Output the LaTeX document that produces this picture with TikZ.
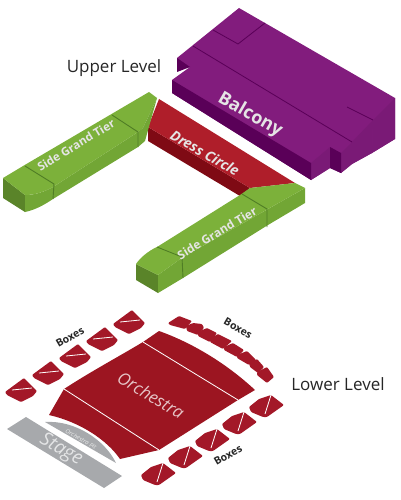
\documentclass[tikz,border=0pt]{standalone}
\usepackage{fontspec}
\setmainfont{Open Sans}
\definecolor{balconytop}{HTML}{821C7D}
\definecolor{balconyside}{HTML}{7A1A76}
\definecolor{balconydark}{HTML}{5A0058}
\definecolor{circletop}{HTML}{AF1E2A}
\definecolor{circledark}{HTML}{7F0A14}
\definecolor{tiertop}{HTML}{7CB13A}
\definecolor{tierside}{HTML}{72A635}
\definecolor{tierdark}{HTML}{5A8429}
\definecolor{seam}{HTML}{4F7D25}
\definecolor{orchfill}{HTML}{9C1521}
\definecolor{boxfill}{HTML}{A31828}
\definecolor{stagefill}{HTML}{A7A9AC}
\begin{document}
\begin{tikzpicture}[x=1pt, y=-1pt,
    levellabel/.style={font=\fontsize{17}{18}\selectfont, text=black!85},
    boxeslabel/.style={font=\fontsize{10.5}{11}\selectfont\bfseries, text=black!85},
    seatlabel/.style={font=\fontsize{11.6}{12}\selectfont\bfseries, text=white!90!black},
    slit/.style={draw=white, line width=0.8pt},
    boxshape/.style={fill=boxfill, rounded corners=1pt}]
  \useasboundingbox (0,0) rectangle (400,500);

  % balcony
  \fill[balconytop] (239,8) -- (395,98) -- (395,139) -- (372,153) -- (352,164) -- (341,173) -- (330,168)
    -- (311,180) -- (172,93) -- (172,80) -- (190,67) -- (177,70) -- (177,58) -- cycle;
  \fill[balconyside] (373,120) -- (395,98) -- (395,139) -- (372,153) -- cycle;
  \fill[balconyside] (352,142) -- (373,120) -- (372,153) -- (352,164) -- cycle;
  \fill[balconyside] (341,153) -- (352,142) -- (352,164) -- (341,173) -- cycle;
  \fill[balconyside] (311,163) -- (330,147) -- (330,168) -- (311,180) -- cycle;
  \fill[balconydark] (172,80) -- (311,163) -- (311,180) -- (172,93) -- cycle;
  \fill[balconydark] (177,58) -- (190,67) -- (177,72) -- cycle;
  \fill[balconydark] (330,147) -- (341,153) -- (341,173) -- (330,168) -- cycle;
  \draw[balconydark, line width=0.8pt] (193,46) -- (352,142);
  \draw[balconydark, line width=0.8pt] (213,30) -- (238,44) -- (265,23);
  \draw[balconydark, line width=0.8pt] (347,107) -- (373,120);
  \node[seatlabel, font=\fontsize{18}{18}\selectfont\bfseries, rotate=-30] (balcony) at (250,115) {Balcony};

  % dress circle
  \fill[circledark] (148,127) -- (250,188) -- (240,196) -- (148,141) -- cycle;
  \fill[circletop] (159,99) -- (295,183) -- (250,188) -- (148,127) -- cycle;
  \node[seatlabel, font=\fontsize{14}{14}\selectfont\bfseries\itshape, rotate=-30] (dresscircle) at (205,153) {Dress Circle};

  % side tier, left
  \fill[tierdark] (3,178) -- (25,195) -- (25,212) -- (3,198) -- cycle;
  \fill[tierside] (25,195) .. controls (36,195) and (46,191) .. (53,187) -- (138,132) -- (138,147) -- (53,199)
    .. controls (44,205) and (35,210) .. (25,212) -- cycle;
  \fill[tiertop] (3,178) -- (23,166) -- (149,92) -- (157,98) -- (143,128) -- (138,132) -- (53,187)
    .. controls (46,191) and (36,195) .. (25,195) -- cycle;
  \fill[tierside] (157,98) -- (145,141) -- (138,147) -- (138,132) -- (143,128) -- cycle;
  \draw[seam, line width=0.9pt] (25,166) -- (54,184) -- (53,199);
  \draw[seam, line width=0.9pt] (112,115) -- (138,132) -- (138,147);
  \node[seatlabel, rotate=31] (tierleft) at (76,145) {Side Grand Tier};

  % side tier, right
  \fill[tierdark] (136,264) -- (158,275) -- (158,293) -- (136,280) -- cycle;
  \fill[tierside] (158,275) -- (183,257) -- (268,209) -- (305,188) -- (305,203) -- (268,225) -- (183,278) -- (158,293) -- cycle;
  \fill[tiertop] (136,264) .. controls (140,258) and (148,251) .. (157,247) -- (240,195) -- (250,188) -- (295,183) -- (305,188)
    -- (268,209) -- (183,257) -- (158,275) -- cycle;
  \draw[seam, line width=0.9pt] (157,247) -- (182,257) -- (183,278);
  \draw[seam, line width=0.9pt] (242,194) -- (267,209) -- (267,227);
  \node[seatlabel, font=\fontsize{11.9}{12}\selectfont\bfseries, rotate=31] (tierright) at (217,233) {Side Grand Tier};

  \node[levellabel] (upper) at (114,68) {Upper Level};
  \node[levellabel] (lower) at (338,384) {Lower Level};

  % orchestra
  \fill[orchfill] (143,342) -- (159,331) .. controls (190,342) and (225,362) .. (255,390) -- (238,400) -- (159,450)
    -- (120,459) .. controls (107,440) and (80,422) .. (49,415) -- (64,389) .. controls (90,372) and (118,357) .. cycle;
  \draw[slit] (143,342) -- (238,400);
  \draw[slit] (64,389) -- (159,450);
  \node[font=\fontsize{17}{17}\selectfont\itshape, text=white!75!orchfill, rotate=-31] (orchestra) at (151,395) {Orchestra};

  % pit and stage
  \fill[stagefill] (45,422) .. controls (75,420) and (105,440) .. (116,463) -- cycle;
  \node[font=\fontsize{6}{6}\selectfont\itshape, text=white!75!stagefill, rotate=-30] (pit) at (81,439) {Orchestra Pit};
  \fill[stagefill] (26,417) -- (122,476) -- (104,488) -- (7,429) -- cycle;
  \node[font=\fontsize{19}{19}\selectfont\itshape, text=white!70!stagefill, rotate=-30] (stage) at (61,450) {Stage};

  % boxes, left
  \foreach \i in {0,...,4} {
    \begin{scope}[shift={(27*\i,-17*\i)}]
      \fill[boxshape] (5,392) -- (24,378) -- (37,391) -- (33,396) -- (21,402) -- (7,395) -- cycle;
      \draw[slit] (12,390) -- (32,388);
    \end{scope}
  }
  % boxes, bottom
  \foreach \i in {0,...,4} {
    \begin{scope}[shift={(27*\i,-17*\i)}]
      \fill[boxshape] (141,475) -- (151,467) -- (163,463) -- (176,473) -- (159,485) -- (155,485) -- (143,480) -- cycle;
      \draw[slit] (163,463) -- (157,482);
    \end{scope}
  }
  % boxes, right
  \fill[boxshape] (168,323) -- (179,316) -- (192,321) -- (185,329) -- (170,325) -- cycle;
  \fill[boxshape] (186,326) -- (193,323) -- (202,324) -- (204,328) -- (198,335) -- (187,331) -- cycle;
  \fill[boxshape] (198,332) -- (207,328) -- (217,333) -- (210,342) -- (198,336) -- cycle;
  \fill[boxshape] (211,338) -- (218,334) -- (232,341) -- (223,349) -- (210,342) -- cycle;
  \fill[boxshape] (224,347) -- (233,343) -- (244,350) -- (237,357) -- (224,350) -- cycle;
  \fill[boxshape] (237,355) -- (247,351) -- (256,360) -- (249,365) -- (237,358) -- cycle;
  \fill[boxshape] (249,363) -- (257,359) -- (264,367) -- (258,373) -- (250,367) -- cycle;
  \fill[boxshape] (257,372) -- (267,367) -- (274,377) -- (267,383) -- (257,375) -- cycle;

  \node[boxeslabel, rotate=30] (boxesleft) at (70,337) {Boxes};
  \node[boxeslabel, rotate=-30] (boxesright) at (238,328) {Boxes};
  \node[boxeslabel, rotate=30] (boxesbottom) at (228,455) {Boxes};
\end{tikzpicture}
\end{document}
